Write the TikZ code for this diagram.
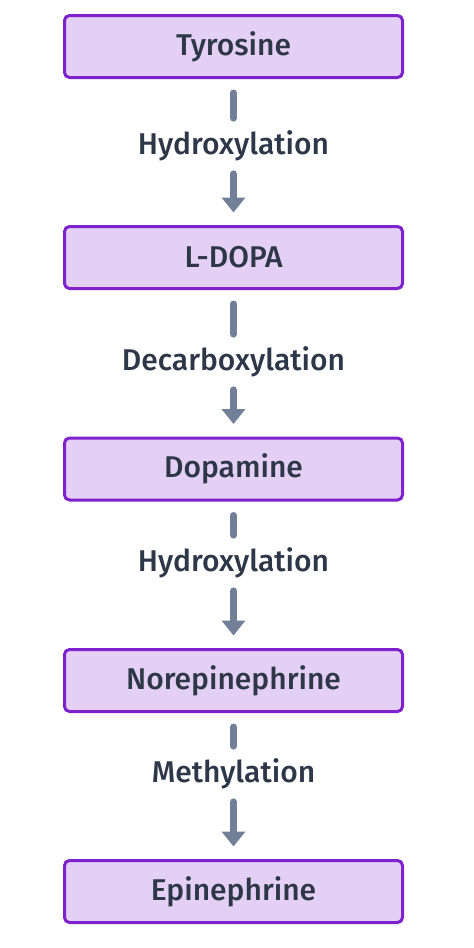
\documentclass[tikz,border=0pt]{standalone}
\usepackage{fontspec}
\setmainfont{Fira Sans}[UprightFont=* Medium]
\usetikzlibrary{arrows.meta}
\definecolor{boxfill}{HTML}{E5D0F5}
\definecolor{boxline}{HTML}{7E22CE}
\definecolor{txt}{HTML}{2D3748}
\definecolor{arrowgray}{HTML}{718096}
\begin{document}
\begin{tikzpicture}[
    x = 0.5pt,
    y = -0.5pt,
    >={Triangle[width=11.5pt,length=7.5pt]},
    compound/.style = {rectangle, rounded corners=2.5pt, draw=boxline, fill=boxfill,
              line width=1.5pt, minimum width=169pt, minimum height=31pt,
              inner sep=0pt, text=txt, font=\fontsize{15}{18}\selectfont},
    reaction/.style = {inner sep=0pt, minimum height=27.5pt, text=txt,
              font=\fontsize{15}{18}\selectfont},
    link/.style = {arrowgray, line width=3.5pt, line cap=round},
    ]

\useasboundingbox (0,0) rectangle (474,948);

\node[compound] (tyrosine) at (233.5,46.5){Tyrosine};
\node[compound] (ldopa) at (233.5,257.5){L-DOPA};
\node[compound] (dopamine) at (233.5,469){Dopamine};
\node[compound] (norepi) at (233.5,680.5){Norepinephrine};
\node[compound] (epi) at (233.5,891.5){Epinephrine};

\node[reaction] (hydrox_1) at (233.5,146){Hydroxylation};
\node[reaction] (decarb) at (233.5,362){Decarboxylation};
\node[reaction] (hydrox_2) at (233.5,563){Hydroxylation};
\node[reaction] (methyl) at (233.5,774){Methylation};

\draw [link, shorten <=7pt] (tyrosine) -- (hydrox_1);
\draw [link, ->, shorten >=6.25pt] (hydrox_1) -- (ldopa);
\draw [link, shorten <=7pt] (ldopa) -- (decarb);
\draw [link, ->, shorten >=6.25pt] (decarb) -- (dopamine);
\draw [link, shorten <=7pt] (dopamine) -- (hydrox_2);
\draw [link, ->, shorten >=6.25pt] (hydrox_2) -- (norepi);
\draw [link, shorten <=7pt] (norepi) -- (methyl);
\draw [link, ->, shorten >=6.25pt] (methyl) -- (epi);

\end{tikzpicture}
\end{document}
